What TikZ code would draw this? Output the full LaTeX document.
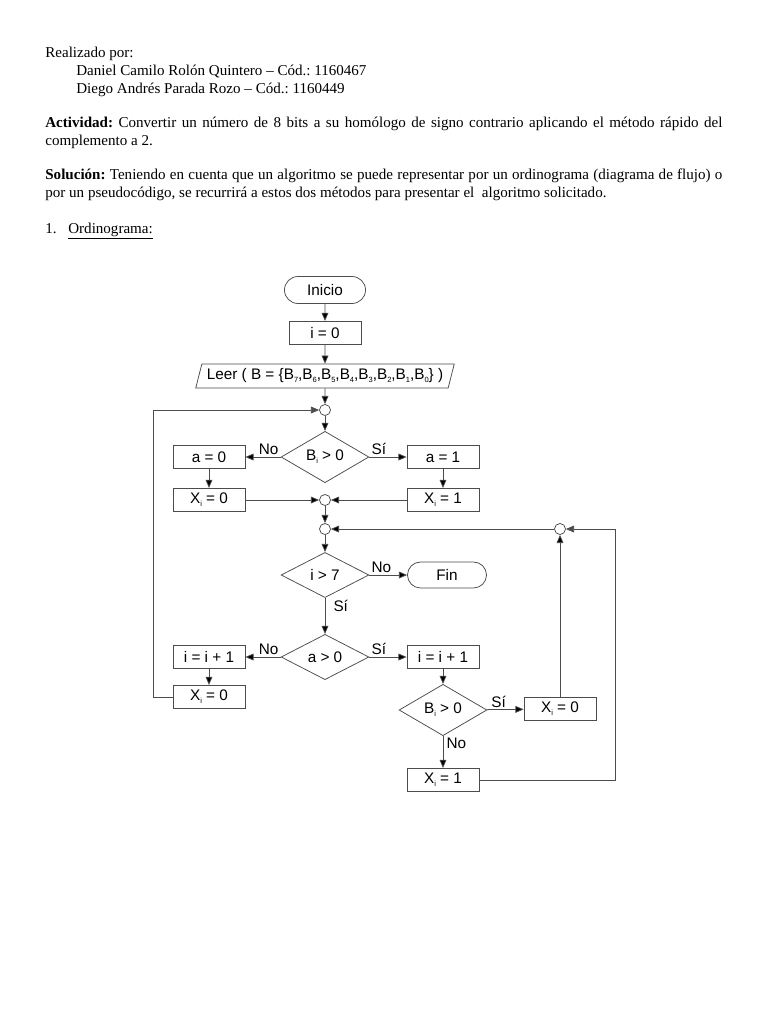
\documentclass[tikz,border=0pt]{standalone}
\usepackage{fontspec}
\setmainfont{Liberation Serif}
\setsansfont{Liberation Sans}
\usetikzlibrary{arrows.meta, shapes.geometric, shapes.misc}
\frenchspacing
\newcommand{\sbi}[1]{\raisebox{-0.35ex}{\fontsize{6}{6}\selectfont #1}}

\begin{document}
\begin{tikzpicture}[
        x = 0.797pt, y = -0.797pt,
        >= {Triangle[length = 6.5pt, width = 5.4pt]},
        line width = 0.6pt,
        every node/.style = {inner sep = 0pt},
        txt/.style = {anchor = base west, font = \fontsize{12}{14.3}\selectfont},
        flow/.style = {draw = black!70, font = \sffamily\fontsize{12.2}{14}\selectfont},
        box/.style = {flow, rectangle, minimum width = 57.4pt, minimum height = 18.6pt},
        cond/.style = {flow, diamond, minimum width = 70pt, minimum height = 36pt},
        term/.style = {flow, rounded rectangle, minimum width = 64.6pt, minimum height = 21.5pt},
        io/.style = {flow, trapezium, trapezium left angle = 67, trapezium right angle = 113,
                     trapezium stretches body, minimum width = 206pt, minimum height = 19pt},
        junta/.style = {draw = black!70, circle, minimum size = 8.8pt},
        lbl/.style = {font = \sffamily\fontsize{12.2}{14}\selectfont, inner sep = 1.5pt}
    ]

      \fill[white] (0,0) rectangle (768,1024);
      \useasboundingbox (0,0) rectangle (768,1024);

      % encabezado
      \node[txt] (autores) at (45,57) {Realizado por:};
      \node[txt] (autorA)  at (76,75) {Daniel Camilo Rolón Quintero – Cód.: 1160467};
      \node[txt] (autorB)  at (76,93) {Diego Andrés Parada Rozo – Cód.: 1160449};
      \node[txt] (activ1)  at (45,127) {\makebox[539.6pt][s]{\textbf{Actividad:} Convertir un número de 8 bits a su homólogo de signo contrario aplicando el método rápido del}};
      \node[txt] (activ2)  at (45,145) {complemento a 2.};
      \node[txt] (soluc1)  at (45,179) {\makebox[539.6pt][s]{\textbf{Solución:} Teniendo en cuenta que un algoritmo se puede representar por un ordinograma (diagrama de flujo) o}};
      \node[txt] (soluc2)  at (45,197) {por un pseudocódigo, se recurrirá a estos dos métodos para presentar el\ \ algoritmo solicitado.};
      \node[txt] (ordin)   at (45,233) {\makebox[18.3pt][l]{1.}\underline{Ordinograma:}};

      % ordinograma
      \node[term]  (inicio) at (325,290) {Inicio};
      \node[box]   (i_0)    at (325,333) {i = 0};
      \node[io]    (leer)   at (325,376) {Leer ( B = \{B\sbi{7},B\sbi{6},B\sbi{5},B\sbi{4},B\sbi{3},B\sbi{2},B\sbi{1},B\sbi{0}\} )};
      \node[junta] (j_1)    at (325,410) {};
      \node[cond]  (b_i)    at (325,457) {B\sbi{i} > 0};
      \node[box]   (a_0)    at (209,457) {a = 0};
      \node[box]   (a_1)    at (443,457) {a = 1};
      \node[box]   (x_0)    at (209,500) {X\sbi{i} = 0};
      \node[box]   (x_1)    at (443,500) {X\sbi{i} = 1};
      \node[junta] (j_2)    at (325,500) {};
      \node[junta] (j_3)    at (325,529) {};
      \node[junta] (j_4)    at (560,529) {};
      \node[cond]  (i_may)  at (325,575) {i > 7};
      \node[term, minimum width = 63pt, minimum height = 20.7pt] (fin) at (447,575) {Fin};
      \node[cond]  (a_may)  at (325,657) {a > 0};
      \node[box]   (inc_L)  at (209,657) {i = i + 1};
      \node[box]   (x_L)    at (209,697) {X\sbi{i} = 0};
      \node[box]   (inc_R)  at (443,657) {i = i + 1};
      \node[cond]  (b_i2)   at (443,710) {B\sbi{i} > 0};
      \node[box]   (x_R0)   at (560,709) {X\sbi{i} = 0};
      \node[box]   (x_R1)   at (443,780) {X\sbi{i} = 1};
      \coordinate (lazo_L) at (153,410);
      \coordinate (lazo_R) at (615,529);

      \path[->, draw = black!70]
                (inicio) edge (i_0)
                (i_0)    edge (leer)
                (leer)   edge (j_1)
                (j_1)    edge (b_i)
                (b_i)    edge node[lbl, pos = 0, above left]  {No} (a_0)
                (b_i)    edge node[lbl, pos = 0, above right] {Sí} (a_1)
                (a_0)    edge (x_0)
                (a_1)    edge (x_1)
                (x_0)    edge (j_2)
                (x_1)    edge (j_2)
                (j_2)    edge (j_3)
                (j_3)    edge (i_may)
                (j_4)    edge (j_3)
                (i_may)  edge node[lbl, pos = 0, above right] {No} (fin)
                (i_may)  edge node[lbl, pos = 0, below right, xshift = 5pt] {Sí} (a_may)
                (a_may)  edge node[lbl, pos = 0, above left]  {No} (inc_L)
                (a_may)  edge node[lbl, pos = 0, above right] {Sí} (inc_R)
                (inc_L)  edge (x_L)
                (inc_R)  edge (b_i2)
                (b_i2)   edge node[lbl, pos = 0, above right, xshift = 2pt] {Sí} (x_R0)
                (b_i2)   edge node[lbl, pos = 0, below right, xshift = 1pt] {No} (x_R1)
                (x_R0)   edge (j_4);

      \draw[->, draw = black!70] (x_L.west) -| (lazo_L) -- (j_1);
      \draw[->, draw = black!70] (x_R1.east) -| (lazo_R) -- (j_4);

    \end{tikzpicture}
\end{document}
